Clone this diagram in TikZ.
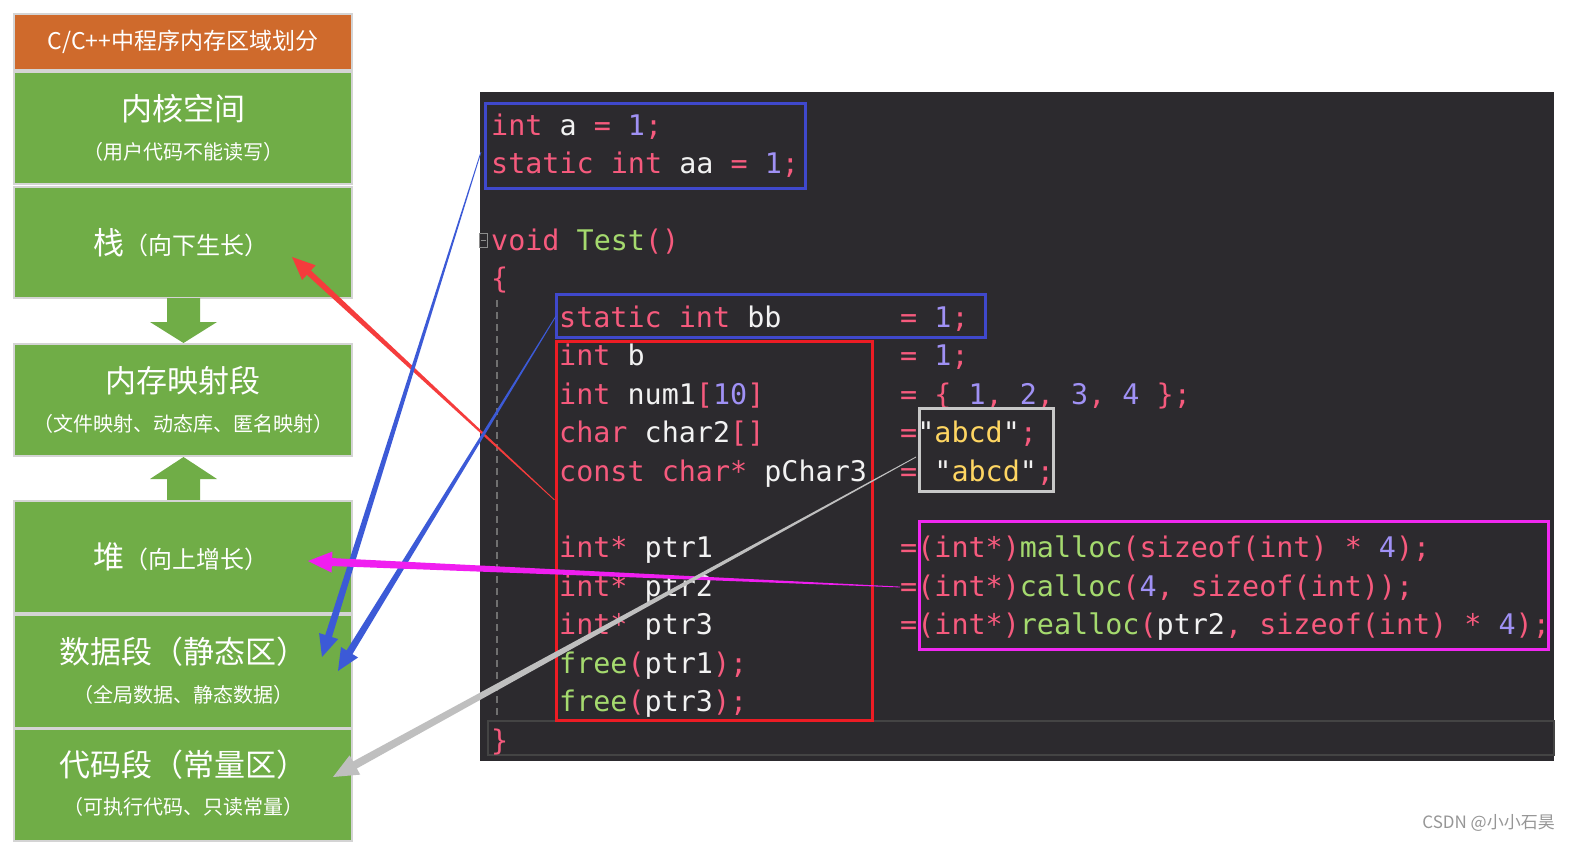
\documentclass[tikz,border=0pt]{standalone}
\usepackage{fontspec}
\setmainfont{Noto Sans CJK SC}
\newfontfamily\codefont{DejaVu Sans Mono}[Ligatures=TeXOff]
\usetikzlibrary{calc}

\definecolor{boxgreen}{RGB}{112,173,71}
\definecolor{boxline}{RGB}{212,212,212}
\definecolor{titleorange}{RGB}{207,106,44}
\definecolor{panelbg}{RGB}{44,42,46}
\definecolor{curline}{RGB}{68,68,68}
\definecolor{guide}{RGB}{112,112,112}
\definecolor{ckwc}{RGB}{246,90,125}
\definecolor{cidc}{RGB}{242,242,242}
\definecolor{cnumc}{RGB}{160,145,245}
\definecolor{cfunc}{RGB}{165,218,110}
\definecolor{cstrc}{RGB}{255,214,98}
\definecolor{bluebox}{RGB}{63,72,204}
\definecolor{redbox}{RGB}{237,28,36}
\definecolor{graybox}{RGB}{200,200,200}
\definecolor{magbox}{RGB}{240,40,240}
\definecolor{redarr}{RGB}{245,60,60}
\definecolor{bluearr}{RGB}{60,90,215}
\definecolor{magarr}{RGB}{240,30,240}
\definecolor{grayarr}{RGB}{191,191,191}

\newcommand\ckw[1]{\textcolor{ckwc}{#1}}
\newcommand\cid[1]{\textcolor{cidc}{#1}}
\newcommand\cnum[1]{\textcolor{cnumc}{#1}}
\newcommand\cfun[1]{\textcolor{cfunc}{#1}}
\newcommand\cstr[1]{\textcolor{cstrc}{#1}}

% tapered arrow: #1 colour, #2 tail, #3 tip, #4 tail half width, #5 shaft half width at head, #6 head length, #7 head half width
\newcommand\taparrow[7]{%
  \coordinate (hb) at ($(#3)!#6!(#2)$);
  \fill[#1] ($(#2)!#4!90:(#3)$) -- ($(hb)!#5!90:(#3)$) -- ($(hb)!#7!90:(#3)$) -- (#3)
    -- ($(hb)!#7!-90:(#3)$) -- ($(hb)!#5!-90:(#3)$) -- ($(#2)!#4!-90:(#3)$) -- cycle;}

\begin{document}
\begin{tikzpicture}[x=1pt,y=-1pt,
  gbox/.style={fill=boxgreen, draw=boxline, line width=1.5pt, minimum width=338pt, inner sep=0pt},
  wt/.style={text=white, inner sep=0pt},
  bigt/.style={wt, font=\fontsize{31}{31}\selectfont},
  subt/.style={wt, font=\fontsize{20}{20}\selectfont},
  codeln/.style={anchor=base west, inner sep=0pt, text=cidc, font=\codefont\fontsize{28.4}{30}\selectfont},
  cbox/.style={draw=#1, line width=3pt, inner sep=0pt},
  blockarrow/.style={fill=boxgreen}
]
\useasboundingbox (0,0) rectangle (1571,844);
\fill[white] (0,0) rectangle (1571,844);

% ---------------- left panel ----------------
\node[gbox, fill=titleorange, minimum height=56pt] (title) at (183,42) {};
\node[wt, font=\fontsize{23}{23}\selectfont] (titlet) at (title.center) {C/C++中程序内存区域划分};

\node[gbox, minimum height=112pt] (kern) at (183,128) {};
\node[bigt] (kernt) at (183,109) {内核空间};
\node[subt] (kerns) at (183,152) {（用户代码不能读写）};

\node[gbox, minimum height=111pt] (stack) at (183,242.5) {};
\node[wt] (stackt) at (181,243) {\fontsize{31}{31}\selectfont 栈\fontsize{24}{24}\selectfont （向下生长）};

\fill[blockarrow] (167,298) -- (200,298) -- (200,322) -- (217,322) -- (183.5,343) -- (150,322) -- (167,322) -- cycle;

\node[gbox, minimum height=112pt] (mmap) at (183,400) {};
\node[bigt] (mmapt) at (183,381) {内存映射段};
\node[subt] (mmaps) at (183,424) {（文件映射、动态库、匿名映射）};

\fill[blockarrow] (183.5,457) -- (217,479) -- (200,479) -- (200,501) -- (167,501) -- (167,479) -- (150,479) -- cycle;

\node[gbox, minimum height=112pt] (heap) at (183,557) {};
\node[wt] (heapt) at (181,557) {\fontsize{31}{31}\selectfont 堆\fontsize{24}{24}\selectfont （向上增长）};

\node[gbox, minimum height=113pt] (data) at (183,671.5) {};
\node[bigt] (datat) at (183,652) {数据段（静态区）};
\node[subt] (datas) at (183,695) {（全局数据、静态数据）};

\node[gbox, minimum height=112pt] (text) at (183,785) {};
\node[bigt] (textt) at (183,765) {代码段（常量区）};
\node[subt] (texts) at (183,807) {（可执行代码、只读常量）};

% ---------------- code panel ----------------
\node[fill=panelbg, minimum width=1074pt, minimum height=669pt, inner sep=0pt] (panel) at (1017,426.5) {};
\node[draw=curline, line width=2.5pt, minimum width=1066pt, minimum height=34pt, inner sep=0pt] (cur) at (1021,738) {};
\draw[guide, line width=1.5pt, dash pattern=on 7pt off 5pt] (497,300) -- (497,718);
\node[draw=guide!80!white, line width=1pt, minimum width=8pt, minimum height=14pt, inner sep=0pt] (fold) at (483,240.5) {};
\draw[guide!80!white, line width=1pt] (480.5,240.5) -- (485.5,240.5);

% code lines
\node[codeln] (l0) at (491,135) {\ckw{int} \cid{a} \ckw{=} \cnum{1}\ckw{;}};
\node[codeln] (l1) at (491,173.45) {\ckw{static} \ckw{int} \cid{aa} \ckw{=} \cnum{1}\ckw{;}};
\node[codeln] (l3) at (491,250.35) {\ckw{void} \cfun{Test}\ckw{()}};
\node[codeln] (l4) at (491,288.8) {\ckw{\{}};
\node[codeln] (l5) at (559,327.25) {\ckw{static} \ckw{int} \cid{bb}};
\node[codeln] (r5) at (900,327.25) {\ckw{=} \cnum{1}\ckw{;}};
\node[codeln] (l6) at (559,365.7) {\ckw{int} \cid{b}};
\node[codeln] (r6) at (900,365.7) {\ckw{=} \cnum{1}\ckw{;}};
\node[codeln] (l7) at (559,404.15) {\ckw{int} \cid{num1}\ckw{[}\cnum{10}\ckw{]}};
\node[codeln] (r7) at (900,404.15) {\ckw{=} \ckw{\{} \cnum{1}\ckw{,} \cnum{2}\ckw{,} \cnum{3}\ckw{,} \cnum{4} \ckw{\};}};
\node[codeln] (l8) at (559,442.6) {\ckw{char} \cid{char2}\ckw{[]}};
\node[codeln] (r8) at (900,442.6) {\ckw{=}\cid{"}\cstr{abcd}\cid{"}\ckw{;}};
\node[codeln] (l9) at (559,481.05) {\ckw{const} \ckw{char*} \cid{pChar3}};
\node[codeln] (r9) at (900,481.05) {\ckw{=} \cid{"}\cstr{abcd}\cid{"}\ckw{;}};
\node[codeln] (l11) at (559,557.95) {\ckw{int*} \cid{ptr1}};
\node[codeln] (r11) at (900,557.95) {\ckw{=(int*)}\cfun{malloc}\ckw{(sizeof(int)} \ckw{*} \cnum{4}\ckw{);}};
\node[codeln] (l12) at (559,596.4) {\ckw{int*} \cid{ptr2}};
\node[codeln] (r12) at (900,596.4) {\ckw{=(int*)}\cfun{calloc}\ckw{(}\cnum{4}\ckw{,} \ckw{sizeof(int));}};
\node[codeln] (l13) at (559,634.85) {\ckw{int*} \cid{ptr3}};
\node[codeln] (r13) at (900,634.85) {\ckw{=(int*)}\cfun{realloc}\ckw{(}\cid{ptr2}\ckw{,} \ckw{sizeof(int)} \ckw{*} \cnum{4}\ckw{);}};
\node[codeln] (l14) at (559,673.3) {\cfun{free}\ckw{(}\cid{ptr1}\ckw{);}};
\node[codeln] (l15) at (559,711.75) {\cfun{free}\ckw{(}\cid{ptr3}\ckw{);}};
\node[codeln] (l16) at (491,750.2) {\ckw{\}}};

% highlight boxes
\node[cbox=bluebox, minimum width=320pt, minimum height=85pt] (bx1) at (645,145.5) {};
\node[cbox=bluebox, minimum width=429pt, minimum height=43pt] (bx2) at (770.5,315.5) {};
\node[cbox=redbox, minimum width=316pt, minimum height=379pt] (rbx) at (714,530.5) {};
\node[cbox=graybox, minimum width=134pt, minimum height=83pt] (gbx) at (986,449.5) {};
\node[cbox=magbox, minimum width=629pt, minimum height=128pt] (mbx) at (1233.5,585) {};

% watermark
\node[anchor=base east, inner sep=0pt, text={rgb,255:red,150;green,150;blue,150}, font=\fontsize{17}{17}\selectfont] (wm) at (1555,828) {CSDN @小小石昊};

% ---------------- arrows ----------------
\coordinate (redT) at ($(rbx.north west)!0.42!(rbx.south west)$);
\coordinate (redH) at (292,257);
\coordinate (blueAT) at (481,152);
\coordinate (blueAH) at (322,657);
\coordinate (blueBT) at (556,316);
\coordinate (blueBH) at (338,671);
\coordinate (magT) at (900,587);
\coordinate (magH) at (308,561);
\coordinate (grayT) at (916,457);
\coordinate (grayH) at (333,777);

\taparrow{redarr}{redT}{redH}{0.4pt}{3pt}{23pt}{10pt}
\taparrow{bluearr}{blueAT}{blueAH}{0.4pt}{3.5pt}{22pt}{10pt}
\taparrow{bluearr}{blueBT}{blueBH}{0.4pt}{3.5pt}{22pt}{10pt}
\taparrow{magarr}{magT}{magH}{0.4pt}{4pt}{24pt}{10.5pt}
\taparrow{grayarr}{grayT}{grayH}{0.4pt}{4pt}{25pt}{11pt}
\end{tikzpicture}
\end{document}
